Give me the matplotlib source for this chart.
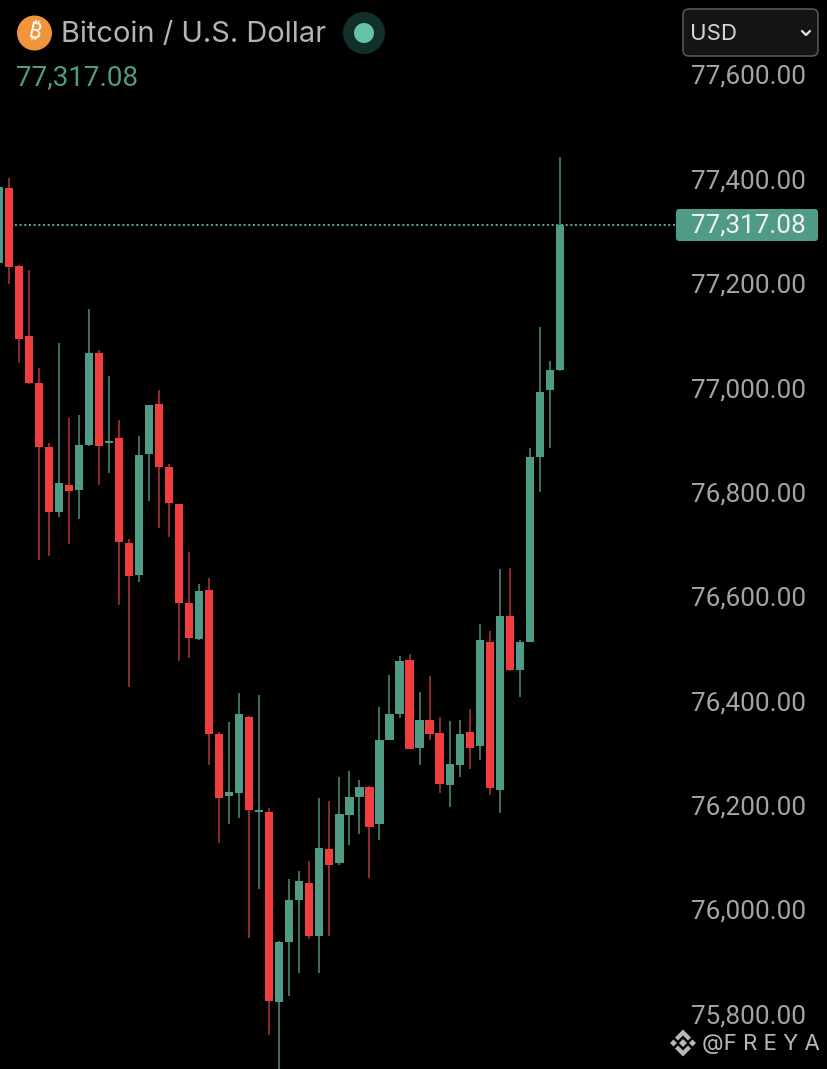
import numpy as np
import matplotlib
matplotlib.use("Agg")
import matplotlib.pyplot as plt
from matplotlib.patches import Circle, FancyBboxPatch, Polygon
from matplotlib.transforms import ScaledTranslation

# -----------------------------
# OHLC
# -----------------------------
open_ = [77244, 77389, 77239, 77104, 77014, 76892, 76767, 76818, 76809, 76895, 77071, 76900, 76909, 76707,
         76646, 76878, 76975, 76854, 76782, 76593, 76524, 76618, 76342, 76223, 76229, 76375, 76193, 76193,
         75827, 75943, 76023, 76056, 75954, 76121, 76094, 76186, 76220, 76240, 76169, 76331, 76379, 76483,
         76314, 76368, 76343, 76244, 76283, 76345, 76319, 76517, 76235, 76568, 76464, 76518, 76872, 77001,
         77039.3]
high = [77403, 77407, 77240, 77231, 77044, 76899, 77092, 76947, 76953, 77156, 77078, 77028, 76943, 76715,
        76913, 76973, 77001, 76859, 76783, 76691, 76630, 76640, 76346, 76365, 76420, 76377, 76417, 76199,
        75945, 76063, 76079, 76098, 76219, 76214, 76259, 76271, 76253, 76242, 76394, 76455, 76491, 76495,
        76423, 76453, 76374, 76367, 76368, 76389, 76552, 76539, 76658, 76659, 76522, 76889, 77122, 77057,
        77447]
low = [77239, 77205, 77052, 77012, 76676, 76683, 76758, 76706, 76753, 76894, 76818, 76842, 76589, 76431,
       76633, 76789, 76736, 76720, 76482, 76487, 76522, 76282, 76132, 76169, 76180, 75950, 76044, 75764,
       75699, 75839, 75884, 75948, 75884, 75954, 76090, 76128, 76150, 76066, 76138, 76330, 76372, 76312,
       76282, 76330, 76229, 76202, 76259, 76275, 76292, 76225, 76191, 76463, 76413, 76518, 76805, 76889,
       77038]
close = [77391, 77237, 77099, 77014, 76892, 76767, 76822, 76808, 76896, 77071, 76894, 76904, 76709, 76645,
         76877, 76972, 76853, 76784, 76593, 76526, 76615, 76341, 76219, 76230, 76379, 76196, 76196, 75829,
         75943, 76023, 76060, 75954, 76124, 76091, 76188, 76221, 76240, 76164, 76331, 76380, 76481, 76313,
         76368, 76342, 76246, 76284, 76342, 76315, 76522, 76238, 76568, 76464, 76518, 76873, 76998, 77039,
         77317.08]

price_ticks = [77600, 77400, 77200, 77000, 76800, 76600, 76400, 76200, 76000, 75800]
last_price = 77317.08

GREEN = "#4f9b85"
RED = "#f23d3e"
GREEN_WICK = "#3f7665"
RED_WICK = "#932c2f"
GREY = "#a4a4a8"
FONT = "Inter"
NUM_FONT = "Roboto"

W, H = 828, 1069
fig = plt.figure(figsize=(W / 100, H / 100), dpi=100, facecolor="black")
ax = fig.add_axes([0, 0, 1, 1], facecolor="black")

idx = np.arange(len(open_))
o = np.array(open_)
c = np.array(close)
up = c >= o

# wicks then bodies
ax.vlines(idx, low, high, colors=[GREEN_WICK if u else RED_WICK for u in up], lw=1.35, zorder=2)
ax.bar(idx, np.abs(c - o), bottom=np.minimum(o, c), width=0.82,
       color=[GREEN if u else RED for u in up], linewidth=0, zorder=3)

ax.hlines(last_price, 1.63, 67.5, colors="#5fae98", lw=1.4, linestyles=(0, (1, 1.4)), zorder=1)

ax.set_xlim(0.13, 82.76)
ax.set_ylim(75699.5, 77748.5)
for s in ax.spines.values():
    s.set_visible(False)
ax.set_xticks([])
ax.yaxis.tick_right()
ax.set_yticks(price_ticks)
ax.set_yticklabels([f"{p:,.2f}" for p in price_ticks], ha="right", family=NUM_FONT,
                   fontsize=18.8, color=GREY)
ax.tick_params(axis="y", length=0, pad=-15.8)
fig.canvas.draw()
shift = ScaledTranslation(0, 3 / 100, fig.dpi_scale_trans)
for lab in ax.get_yticklabels():
    lab.set_transform(lab.get_transform() + shift)

# -----------------------------
# Header and overlays, in pixels
# -----------------------------
ui = fig.add_axes([0, 0, 1, 1], facecolor="none")
ui.set_xlim(0, W)
ui.set_ylim(H, 0)
ui.axis("off")

ui.add_patch(Circle((34.5, 33), 17.5, fc="#f0953a", ec="none"))
ui.text(34.5, 33, "\u20bf", color="white", fontsize=16, fontweight="bold", rotation=-12,
        ha="center", va="center", family=["Noto Sans", "Liberation Sans", "Open Sans", "Lato", "DejaVu Sans"])
ui.text(61, 34.5, "Bitcoin / U.S. Dollar", color="#b4b4b8", fontsize=20.9, family=FONT,
        ha="left", va="center")
ui.add_patch(Circle((364, 33), 21, fc="#11302b", ec="none"))
ui.add_patch(Circle((364, 33), 10, fc="#66c2aa", ec="none"))
ui.text(16, 78, "77,317.08", color=GREEN, fontsize=20, family=NUM_FONT, ha="left", va="center")

ui.add_patch(FancyBboxPatch((683, 9), 135, 47, boxstyle="round,pad=0,rounding_size=6",
                            fc="#141414", ec="#5c5c5c", lw=1.1))
ui.text(690, 33.5, "USD", color="#d6d6d6", fontsize=16, family=FONT, ha="left", va="center")
ui.plot([802, 806, 810], [31, 35, 31], color="#e6e6e6", lw=1.6, solid_capstyle="round")

ui.add_patch(FancyBboxPatch((676, 209), 142, 32, boxstyle="round,pad=0,rounding_size=3",
                            fc=GREEN, ec="none"))
ui.text(806, 225, f"{last_price:,.2f}", color="#f2f2f2", fontsize=18.8, family=NUM_FONT,
        ha="right", va="center")

# watermark logo
lx, ly = 683, 1043
logo = [
    [(-13, 0), (-9.5, -3.5), (-6, 0), (-9.5, 3.5)],
    [(13, 0), (9.5, -3.5), (6, 0), (9.5, 3.5)],
    [(0, -4), (4, 0), (0, 4), (-4, 0)],
    [(0, -13.5), (8, -5.5), (5, -2.5), (0, -7.5), (-5, -2.5), (-8, -5.5)],
    [(0, 13.5), (8, 5.5), (5, 2.5), (0, 7.5), (-5, 2.5), (-8, 5.5)],
]
for pts in logo:
    ui.add_patch(Polygon([(lx + a, ly + b) for a, b in pts], fc="#b8b8b8", ec="none"))
ui.text(820, 1043.5, "@F R E Y A", color="#b8b8b8", fontsize=16, family=FONT, ha="right", va="center")

fig.savefig("out.png", dpi=100, facecolor="black")
